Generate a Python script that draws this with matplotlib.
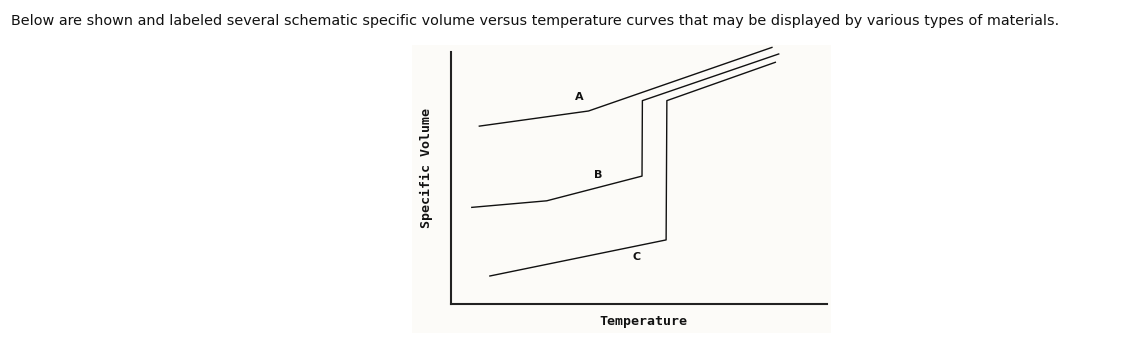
import matplotlib
matplotlib.use("Agg")
import matplotlib.pyplot as plt
from matplotlib.patches import Rectangle

# ---- data (schematic, arbitrary units) ----
title = "Below are shown and labeled several schematic specific volume versus temperature curves that may be displayed by various types of materials."
x_label = "Temperature"
y_label = "Specific Volume"

curve_A_T = [7.6, 36.6, 85.3]
curve_A_V = [70.5, 76.5, 101.7]

curve_B_T = [5.6, 25.5, 50.8, 50.9, 87.1]
curve_B_V = [38.3, 40.9, 50.7, 80.6, 99.1]

curve_C_T = [10.4, 57.2, 57.4, 86.2]
curve_C_V = [11.1, 25.4, 80.6, 95.8]

labels = ["A", "B", "C"]
label_T = [34.2, 39.2, 49.3]
label_V = [82.0, 51.1, 18.5]

W, H = 1148, 348
fig = plt.figure(figsize=(W / 100, H / 100), dpi=100)
fig.patch.set_facecolor("white")

# light background panel of the figure image
fig.patches.append(Rectangle((412.3 / W, (H - 333.3) / H), (830.7 - 412.3) / W, (333.3 - 45) / H,
                             transform=fig.transFigure, facecolor="#fcfbf8", edgecolor="none", zorder=-5))

fig.text(11 / W, 1 - 21 / H, title, fontsize=10.32, family="DejaVu Sans", color="#111111",
         va="center", ha="left")

ax_left, ax_right = 450.7, 827.3
ax_bottom_px = 304.0
unit = (304.0 - 51.7) / 100.0
ymax = 104.0
ax = fig.add_axes([ax_left / W, (H - ax_bottom_px) / H, (ax_right - ax_left) / W, ymax * unit / H])
ax.set_zorder(2)
ax.set_facecolor("none")
ax.set_xlim(0, 100)
ax.set_ylim(0, ymax)
for s in ["top", "right"]:
    ax.spines[s].set_visible(False)
ax.spines["left"].set_bounds(0, 100)
for s in ["left", "bottom"]:
    ax.spines[s].set_linewidth(1.5)
    ax.spines[s].set_color("#222222")
ax.set_xticks([])
ax.set_yticks([])

lc = "#111111"
ax.plot(curve_A_T, curve_A_V, color=lc, lw=1.0, clip_on=False)
ax.plot(curve_B_T, curve_B_V, color=lc, lw=1.0, clip_on=False)
ax.plot(curve_C_T, curve_C_V, color=lc, lw=1.0, clip_on=False)

for lab, t, v in zip(labels, label_T, label_V):
    ax.text(t, v, lab, fontsize=8, fontweight="bold", family="DejaVu Sans",
            ha="center", va="center", color="#111111")

fig.text(643.3 / W, 1 - 321.7 / H, x_label, fontsize=9.5, fontweight="bold",
         family="DejaVu Sans Mono", ha="center", va="center", color="#111111")
fig.text(426.7 / W, 1 - 167.5 / H, y_label, fontsize=9.5, fontweight="bold",
         family="DejaVu Sans Mono", ha="center", va="center", rotation=90, color="#111111")

fig.savefig("out.png", dpi=100, facecolor="white")
